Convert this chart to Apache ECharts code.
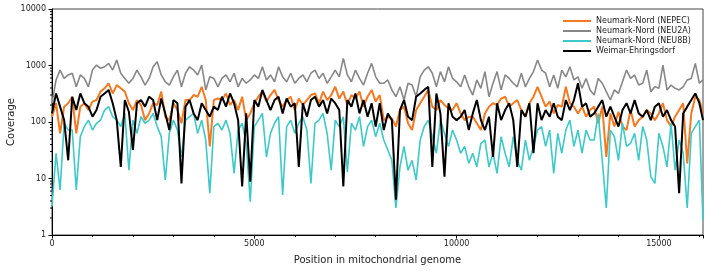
<!DOCTYPE html>
<html>
<head>
<meta charset="utf-8">
<script src="https://cdn.jsdelivr.net/npm/echarts@6/dist/echarts.min.js"></script>
<style>html,body{margin:0;padding:0;background:#fff}#c{width:708px;height:271px}</style>
</head>
<body>
<div id="c"></div>
<script>
// genome positions (bp)
var positions = [0,100,200,300,400,500,600,700,800,900,1000,1100,1200,1300,1400,1500,1600,1700,1800,1900,
2000,2100,2200,2300,2400,2500,2600,2700,2800,2900,3000,3100,3200,3300,3400,3500,3600,3700,3800,3900,
4000,4100,4200,4300,4400,4500,4600,4700,4800,4900,5000,5100,5200,5300,5400,5500,5600,5700,5800,5900,
6000,6100,6200,6300,6400,6500,6600,6700,6800,6900,7000,7100,7200,7300,7400,7500,7600,7700,7800,7900,
8000,8100,8200,8300,8400,8500,8600,8700,8800,8900,9000,9100,9200,9300,9400,9500,9600,9700,9800,9900,
10000,10100,10200,10300,10400,10500,10600,10700,10800,10900,11000,11100,11200,11300,11400,11500,11600,11700,11800,11900,
12000,12100,12200,12300,12400,12500,12600,12700,12800,12900,13000,13100,13200,13300,13400,13500,13600,13700,13800,13900,
14000,14100,14200,14300,14400,14500,14600,14700,14800,14900,15000,15100,15200,15300,15400,15500,15600,15700,15800,15900,
16000,16090];

var nepec = [124,215,63,187,215,280,63,187,215,163,230,245,345,395,485,320,450,395,345,215,163,245,200,108,142,215,200,345,124,108,215,163,95,245,245,300,280,420,245,37,245,260,
245,320,200,245,163,280,108,142,215,280,345,230,300,370,245,187,245,280,163,260,200,245,300,320,215,345,245,300,420,260,345,200,300,260,345,187,280,370,230,300,
108,124,116,83,163,187,95,72,163,215,280,370,187,163,245,200,175,163,215,142,108,124,124,95,72,142,187,215,200,260,280,187,215,245,163,124,215,280,420,
280,187,230,142,200,187,420,215,187,142,187,124,163,187,95,187,24,142,83,152,83,72,163,83,108,124,163,142,108,142,215,108,83,124,163,215,18.5,142,280,245,142];

var neu2a = [215,555,830,590,680,730,420,680,590,420,830,1020,890,950,1090,830,1250,730,590,485,590,830,630,450,590,950,1170,680,515,450,630,830,420,730,950,830,680,1020,370,630,590,420,
590,680,515,730,420,590,485,555,680,590,950,555,680,515,950,630,515,730,485,590,680,515,730,830,590,730,485,630,830,630,1340,680,515,830,590,450,730,1090,630,485,
485,555,370,280,420,245,485,450,280,630,830,950,730,420,780,515,950,590,515,420,680,420,300,555,395,780,280,485,780,370,680,590,485,420,730,420,590,780,1250,
830,730,420,680,395,830,630,950,555,630,395,590,370,300,590,485,345,245,370,320,515,830,590,680,450,485,830,345,420,395,1020,370,450,395,370,420,555,590,1090,485,555];

var neu8b = [3.2,28,6.3,95,72,72,6.3,55,83,108,72,95,108,163,187,124,108,83,142,14,108,63,124,95,108,142,83,55,9.4,63,108,72,24,108,124,142,63,108,48,5.5,83,95,
72,108,63,12.3,72,95,42,3.9,83,108,142,24,63,95,124,5.1,83,108,63,95,124,72,8.2,95,108,142,63,14,108,83,124,13,95,72,124,37,83,108,55,95,
48,32,21,3.0,16,37,14,21,9.4,48,83,108,55,28,108,63,37,72,48,28,37,18.5,28,16,42,48,16,28,12.3,55,28,16,55,21,14,48,21,37,72,
83,37,72,12.3,63,28,72,108,37,72,28,72,48,48,142,21,3.0,72,55,21,95,37,42,63,21,83,48,10.8,8.2,63,37,16,95,14,48,28,3.0,63,83,108,1.8];

var weimar = [142,320,187,108,21,280,163,320,215,187,124,163,280,320,370,215,108,16,245,152,32,215,245,187,280,245,108,260,142,72,245,215,8.2,187,245,142,108,215,163,124,187,163,
280,187,320,215,108,7.2,142,8.8,245,187,370,245,163,245,280,142,260,187,215,16,215,124,245,280,187,245,142,260,215,163,7.2,245,187,320,142,245,124,215,83,215,
72,142,108,4.2,163,245,124,108,280,320,370,420,16,320,142,10.8,215,124,108,124,163,72,142,245,108,72,124,24,215,108,163,215,108,16,163,124,215,28,215,
108,163,124,215,124,108,245,163,245,485,187,215,124,142,187,245,124,187,124,83,163,215,142,245,142,124,163,108,187,215,124,163,108,83,5.5,142,187,245,320,215,108];

var seriesNames = ['Neumark-Nord (NEPEC)','Neumark-Nord (NEU2A)','Neumark-Nord (NEU8B)','Weimar-Ehringsdorf'];
var xTickLabels = ['0','5000','10000','15000'];
var yTickLabels = ['1','10','100','1000','10000'];

function pairs(vals){ var out=[]; for(var i=0;i<vals.length;i++){ out.push([positions[i], vals[i]]); } return out; }

// minor log ticks (2..9 per decade)
var minorTicks = [];
for (var d=1; d<10000; d*=10){ for (var m=2;m<=9;m++){ minorTicks.push([0, m*d]); } }

var font = 'DejaVu Sans';
var chart = echarts.init(document.getElementById('c'), null, {renderer:'canvas'});
chart.setOption({
  animation:false,
  backgroundColor:'#fff',
  textStyle:{fontFamily:font},
  grid:{left:52,right:5,top:9,bottom:36,containLabel:false,outerBoundsMode:'none',show:true,borderColor:'#444',borderWidth:1,backgroundColor:'transparent'},
  legend:{
    data:seriesNames, orient:'vertical', left:560, top:14,
    itemWidth:28, itemHeight:2, itemGap:0,
    backgroundColor:'rgba(255,255,255,0.85)', padding:[2,4,2,2],
    textStyle:{fontFamily:font,fontSize:8,color:'#222',lineHeight:10}
  },
  xAxis:{
    type:'value', min:0, max:16090, interval:5000,
    name:'Position in mitochondrial genome', nameLocation:'middle', nameGap:20, nameMoveOverlap:false,
    nameTextStyle:{fontFamily:font,fontSize:10,color:'#222'},
    axisLine:{show:true,onZero:false,lineStyle:{color:'#000',width:1}},
    axisTick:{show:true,length:3.5,lineStyle:{color:'#000'}},
    minorTick:{show:true,splitNumber:5,length:2,lineStyle:{color:'#000'}},
    splitLine:{show:false},
    axisLabel:{fontFamily:font,fontSize:8,color:'#222',margin:5,
      formatter:function(v){ var i=Math.round(v/5000); return (Math.abs(v-i*5000)<1 && xTickLabels[i]!==undefined)? xTickLabels[i] : ''; }}
  },
  yAxis:{
    type:'log', logBase:10, min:1, max:10000,
    name:'Coverage', nameLocation:'middle', nameGap:36, nameMoveOverlap:false,
    nameTextStyle:{fontFamily:font,fontSize:10,color:'#222'},
    axisLine:{show:true,onZero:false,lineStyle:{color:'#000',width:1}},
    axisTick:{show:true,length:3.5,lineStyle:{color:'#000'}},
    splitLine:{show:false},
    axisLabel:{fontFamily:font,fontSize:8,color:'#222',margin:6,
      formatter:function(v){ var i=Math.round(Math.log10(v)); return yTickLabels[i]!==undefined? yTickLabels[i] : ''; }}
  },
  series:[
    {name:seriesNames[0],type:'line',data:pairs(nepec),symbol:'none',lineStyle:{color:'#f37a22',width:2},itemStyle:{color:'#f37a22'},z:2},
    {name:seriesNames[1],type:'line',data:pairs(neu2a),symbol:'none',lineStyle:{color:'#878787',width:1.6},itemStyle:{color:'#878787'},z:3},
    {name:seriesNames[2],type:'line',data:pairs(neu8b),symbol:'none',lineStyle:{color:'#3ec8c8',width:1.6},itemStyle:{color:'#3ec8c8'},z:4},
    {name:seriesNames[3],type:'line',data:pairs(weimar),symbol:'none',lineStyle:{color:'#000000',width:2},itemStyle:{color:'#000'},z:5},
    {type:'custom',data:minorTicks,clip:false,silent:true,z:10,
      renderItem:function(params,api){
        var p = api.coord([api.value(0), api.value(1)]);
        return {type:'line',shape:{x1:p[0]-2,y1:p[1],x2:p[0],y2:p[1]},style:{stroke:'#000',lineWidth:1}};
      }}
  ]
});
</script>
</body>
</html>
